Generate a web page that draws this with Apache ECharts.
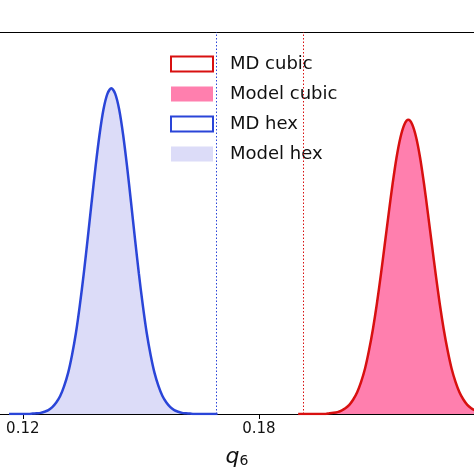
<!DOCTYPE html><html><head><meta charset="utf-8">
<script src="https://cdn.jsdelivr.net/npm/echarts@6/dist/echarts.min.js"></script>
<style>html,body{margin:0;background:#fff}#c{width:474px;height:474px}</style></head><body>
<div id="c"></div><script>
const hexStart = 0.1165, cubicStart = 0.190, binW = 0.001;
const hexValues = [0,0,0,0,0,0,0.001,0.002,0.003,0.006,0.010,0.018,0.030,0.047,0.073,0.107,0.154,0.212,0.285,0.368,0.460,0.555,0.648,0.731,0.797,0.838,0.853,0.838,0.797,0.731,0.648,0.555,0.460,0.368,0.285,0.212,0.154,0.107,0.073,0.047,0.030,0.018,0.010,0.006,0.003,0.002,0.001,0,0,0,0,0,0,0];
const cubicValues = [0,0,0,0,0,0,0,0,0.002,0.003,0.005,0.009,0.015,0.024,0.038,0.057,0.084,0.119,0.166,0.222,0.288,0.363,0.443,0.524,0.602,0.671,0.724,0.758,0.770,0.758,0.724,0.671,0.602,0.524,0.443,0.363,0.288,0.222,0.166,0.119,0.084,0.057,0.038,0.024,0.015,0.009];
const xTicks = [0.12, 0.18];
const thresholds = {hex: 0.1693, cubic: 0.1914};
const toPts = (s, v) => v.map((y,i)=>[+(s+i*binW).toFixed(4), y]);
const hexPts = toPts(hexStart, hexValues), cubicPts = toPts(cubicStart, cubicValues);
const vline = (x,c)=>({silent:true,symbol:'none',label:{show:false},lineStyle:{color:c,type:[1.5,2],width:1},data:[[{coord:[x,0]},{coord:[x,1]}]]});
const chart = echarts.init(document.getElementById('c'));
chart.setOption({
  animation:false,
  grid:{left:0,right:0,top:32,bottom:60},
  legend:{left:165,top:50,orient:'vertical',itemWidth:42,itemHeight:15,itemGap:12,
    textStyle:{fontSize:18,color:'#111',fontFamily:'DejaVu Sans',padding:[0,0,0,12]},
    data:[
      {name:'MD cubic',icon:'rect',itemStyle:{color:'#fff',borderColor:'#d81010',borderWidth:2}},
      {name:'Model cubic',icon:'rect',itemStyle:{color:'#ff7fae',borderWidth:0}},
      {name:'MD hex',icon:'rect',itemStyle:{color:'#fff',borderColor:'#2a45d8',borderWidth:2}},
      {name:'Model hex',icon:'rect',itemStyle:{color:'#dcdcf8',borderWidth:0}}]},
  xAxis:[{type:'value',min:0.1142,max:0.2347,position:'bottom',
    axisLine:{lineStyle:{color:'#000',width:1.2}},splitLine:{show:false},
    axisTick:{customValues:xTicks,length:5,lineStyle:{color:'#000'}},
    axisLabel:{customValues:xTicks,fontSize:15,color:'#111',fontFamily:'DejaVu Sans',formatter:v=>v.toFixed(2)},
    name:'{q|q}{s|6}',nameLocation:'middle',nameGap:32,
    nameTextStyle:{rich:{q:{fontSize:22,fontStyle:'italic',fontFamily:'DejaVu Sans',color:'#111'},s:{fontSize:14,fontFamily:'DejaVu Sans',color:'#111',verticalAlign:'bottom',padding:[8,0,0,0]}}}},
    {type:'value',min:0.1142,max:0.2347,position:'top',axisLine:{show:true,lineStyle:{color:'#000',width:1.2}},axisTick:{show:false},axisLabel:{show:false},splitLine:{show:false}}],
  yAxis:{type:'value',min:0,max:1,show:false},
  series:[
    {name:'Model hex',type:'line',smooth:0.3,data:hexPts,symbol:'none',lineStyle:{width:0},areaStyle:{color:'#dcdcf8',opacity:1},itemStyle:{color:'#dcdcf8'}},
    {name:'MD hex',type:'line',smooth:0.3,data:hexPts,symbol:'none',lineStyle:{width:2.5,color:'#2a45d8'},itemStyle:{color:'#2a45d8'}},
    {name:'Model cubic',type:'line',smooth:0.3,data:cubicPts,symbol:'none',lineStyle:{width:0},areaStyle:{color:'#ff7fae',opacity:1},itemStyle:{color:'#ff7fae'}},
    {name:'MD cubic',type:'line',smooth:0.3,data:cubicPts,symbol:'none',lineStyle:{width:2.5,color:'#d81010'},itemStyle:{color:'#d81010'}},
    {name:'thr',type:'line',data:[],markLine:{...vline(thresholds.hex,'#2a45d8'),data:[[{coord:[thresholds.hex,0]},{coord:[thresholds.hex,1]}],]}},
    {name:'thr2',type:'line',data:[],markLine:vline(thresholds.cubic,'#d81010')}
  ]
});
</script></body></html>
